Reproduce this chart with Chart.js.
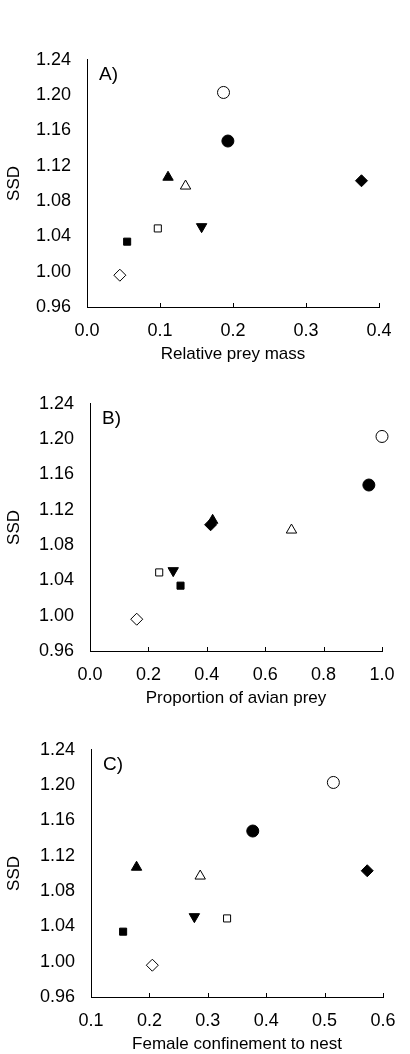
<!DOCTYPE html>
<html>
<head>
<meta charset="utf-8">
<script src="https://cdn.jsdelivr.net/npm/chart.js@4.4.0/dist/chart.umd.min.js"></script>
<style>
  body { margin: 0; background: #fff; }
  .panel { position: absolute; left: 0; }
</style>
</head>
<body>
<div class="panel" id="pA"><canvas id="cA"></canvas></div>
<div class="panel" id="pB"><canvas id="cB"></canvas></div>
<div class="panel" id="pC"><canvas id="cC"></canvas></div>
<script>
// marker per species: [pointStyle, rotation, filled]
const MARKERS = [
    ['rectRot', 0, false],   // open diamond
    ['rect', 0, true],       // filled square
    ['rect', 0, false],      // open square
    ['triangle', 0, true],   // filled triangle
    ['triangle', 0, false],  // open triangle
    ['triangle', 180, true], // filled down triangle
    ['circle', 0, false],    // open circle
    ['circle', 0, true],     // filled circle
    ['rectRot', 0, true],    // filled diamond
];

const SSD = [0.996, 1.034, 1.049, 1.107, 1.097, 1.051, 1.203, 1.148, 1.103];
const SSD_B = [0.996, 1.034, 1.049, 1.108, 1.097, 1.051, 1.203, 1.148, 1.103];

const preyMass = [0.045, 0.055, 0.097, 0.111, 0.135, 0.157, 0.187, 0.193, 0.376];
const avianPrey = [0.16, 0.31, 0.237, 0.42, 0.69, 0.285, 1.0, 0.955, 0.413];
const confinement = [0.205, 0.155, 0.333, 0.178, 0.287, 0.277, 0.515, 0.377, 0.573];

const Y_TICKS = [0.96, 1.00, 1.04, 1.08, 1.12, 1.16, 1.20, 1.24];

const FONT = 'Liberation Sans, Arial, sans-serif';

function makePanel(id, divId, label, xs, ys, xMin, xMax, xStep, xDecimals, xTitle, box) {
    const div = document.getElementById(divId);
    const top = box.top - 15;
    const h = box.bottom - top + 62;
    div.style.top = top + 'px';
    div.style.width = '410px';
    div.style.height = h + 'px';

    const points = xs.map((x, i) => ({x, y: ys[i]}));
    const labelPlugin = {
        id: 'panelLabel',
        afterDraw(chart) {
            const {ctx, chartArea, scales} = chart;
            ctx.save();
            ctx.fillStyle = '#000';
            ctx.font = '19px ' + FONT;
            ctx.textBaseline = 'top';
            ctx.fillText(label, chartArea.left + 12, chartArea.top + 5);
            // short inward ticks on the x axis
            ctx.strokeStyle = '#000';
            ctx.lineWidth = 1;
            scales.x.ticks.forEach(t => {
                const px = Math.round(scales.x.getPixelForValue(t.value)) + 0.5;
                ctx.beginPath();
                ctx.moveTo(px, chartArea.bottom);
                ctx.lineTo(px, chartArea.bottom - 4);
                ctx.stroke();
            });
            ctx.restore();
        }
    };

    new Chart(document.getElementById(id), {
        type: 'scatter',
        data: {
            datasets: [{
                data: points,
                clip: false,
                pointStyle: MARKERS.map(m => m[0]),
                rotation: MARKERS.map(m => m[1]),
                backgroundColor: MARKERS.map(m => m[2] ? '#000' : '#fff'),
                borderColor: '#000',
                borderWidth: 1,
                pointRadius: MARKERS.map(m => m[0] === 'rect' ? 5 : 6),
                pointHoverRadius: 6,
            }]
        },
        options: {
            responsive: true,
            maintainAspectRatio: false,
            animation: false,
            layout: {padding: {top: 15, right: 410 - box.right, left: 0, bottom: 0}},
            plugins: {legend: {display: false}, tooltip: {enabled: false}},
            scales: {
                x: {
                    type: 'linear',
                    min: xMin, max: xMax,
                    afterFit: s => { s.height = 62; },
                    border: {color: '#000', width: 1},
                    grid: {display: false},
                    ticks: {
                        stepSize: xStep,
                        color: '#000',
                        font: {family: FONT, size: 18},
                        padding: 5,
                        maxRotation: 0,
                        callback: v => v.toFixed(xDecimals),
                    },
                    title: {
                        display: true, text: xTitle, color: '#000',
                        font: {family: FONT, size: 17}, padding: {top: 6},
                    },
                },
                y: {
                    min: 0.96, max: 1.24,
                    afterFit: s => { s.width = box.left; },
                    afterBuildTicks: s => { s.ticks = Y_TICKS.map(v => ({value: v})); },
                    border: {color: '#000', width: 1},
                    grid: {display: false},
                    ticks: {
                        color: '#000',
                        font: {family: FONT, size: 18},
                        padding: 8,
                        callback: v => v.toFixed(2),
                    },
                    title: {
                        display: true, text: 'SSD', color: '#000',
                        font: {family: FONT, size: 17}, padding: {bottom: 0},
                    },
                },
            },
        },
        plugins: [labelPlugin],
    });
}

makePanel('cA', 'pA', 'A)', preyMass, SSD, 0, 0.4, 0.1, 1, 'Relative prey mass',
    {left: 87, right: 379, top: 56, bottom: 307});
makePanel('cB', 'pB', 'B)', avianPrey, SSD_B, 0, 1.0, 0.2, 1, 'Proportion of avian prey',
    {left: 90, right: 382, top: 400, bottom: 651});
makePanel('cC', 'pC', 'C)', confinement, SSD, 0.1, 0.6, 0.1, 1, 'Female confinement to nest',
    {left: 91, right: 383, top: 746, bottom: 997});
</script>
</body>
</html>
